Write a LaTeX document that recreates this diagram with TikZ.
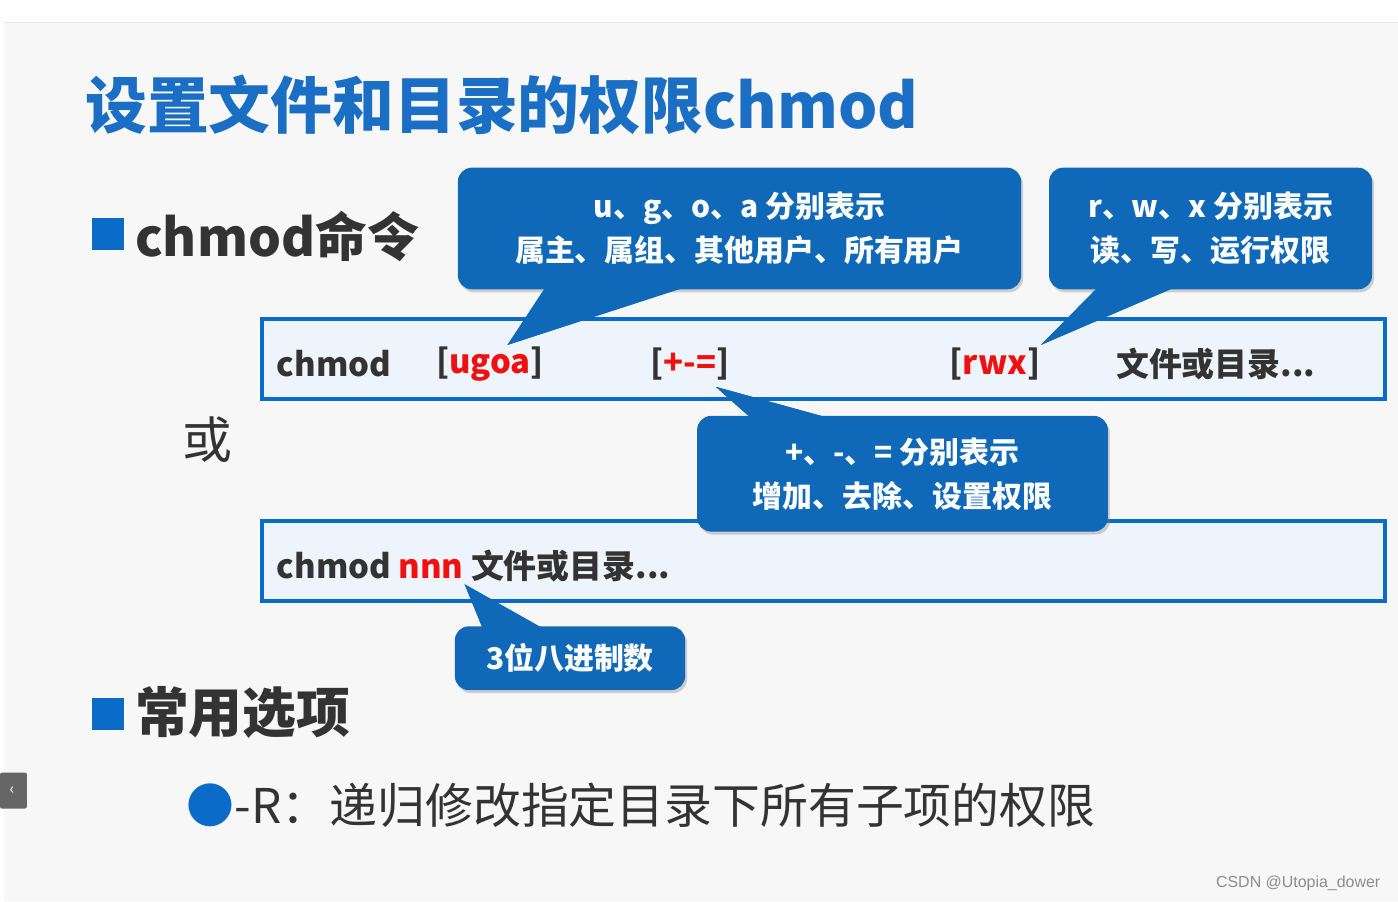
\documentclass[tikz,border=0pt]{standalone}
\usepackage{fontspec}
\setmainfont{Noto Sans CJK SC}
\newfontfamily\latinb{Liberation Sans}
\usetikzlibrary{shadows}
\definecolor{tblue}{HTML}{1A6FC4}
\definecolor{cblue}{HTML}{0F68B8}
\definecolor{bxblue}{HTML}{0A6CC8}
\definecolor{bxfill}{HTML}{EEF4FC}
\definecolor{dgray}{HTML}{333333}
\definecolor{rred}{HTML}{F01010}
\begin{document}
\begin{tikzpicture}[x=1pt,y=-1pt,
  callout/.style={fill=cblue,rounded corners=14pt,draw=none,drop shadow={shadow xshift=2pt,shadow yshift=-3pt,opacity=0.35}},
  ctext/.style={text=white,font=\bfseries\fontsize{30}{44}\selectfont,align=center},
  cmdbox/.style={draw=bxblue,line width=4pt,fill=bxfill},
  cmd/.style={anchor=west,font=\bfseries\fontsize{33}{36}\selectfont,text=dgray},
  bsq/.style={fill=bxblue}]
\fill[white] (0,0) rectangle (1398,904);
\fill[black!3] (0,22) rectangle (1398,904);
\draw[black!10] (0,22) -- (1398,22);
% title
\node[anchor=west,text=tblue,font=\bfseries\fontsize{62}{66}\selectfont] (title) at (78,105) {设置文件和目录的权限chmod};
% bullet 1
\fill[bsq] (88,219) rectangle (120,251);
\node[anchor=west,text=dgray,font=\bfseries\fontsize{52}{56}\selectfont] (h1) at (128,237) {chmod命令};
% boxes
\node[cmdbox,minimum width=1126pt,minimum height=80pt,anchor=north west] (box1) at (257,318) {};
\node[cmdbox,minimum width=1126pt,minimum height=80pt,anchor=north west] (box2) at (257,521) {};
% pointers
\coordinate (p1) at (505,346); \coordinate (p2) at (1040,346);
\coordinate (p3) at (714,388); \coordinate (p4) at (462,586);
\fill[cblue] (p1) -- (545,285) -- (690,285) -- cycle;
\fill[cblue] (p2) -- (1100,285) -- (1180,285) -- cycle;
% callouts 1,2
\node[callout,minimum width=565pt,minimum height=122pt,anchor=north west] (c1) at (455,168) {};
\node[ctext] at (c1) {u、g、o、a 分别表示\\属主、属组、其他用户、所有用户};
\node[callout,minimum width=324pt,minimum height=122pt,anchor=north west] (c2) at (1048,168) {};
\node[ctext] at (c2) {r、w、x 分别表示\\读、写、运行权限};
\fill[cblue] (p1) -- (545,286) -- (690,286) -- cycle;
\fill[cblue] (p2) -- (1100,286) -- (1180,286) -- cycle;
% command 1 texts
\node[cmd] (t1) at (270,365) {chmod};
\node[cmd] (t2) at (430,365) {[\textcolor{rred}{ugoa}]};
\node[cmd] (t3) at (645,365) {[\textcolor{rred}{+-=}]};
\node[cmd] (t4) at (945,365) {[\textcolor{rred}{rwx}]};
\node[cmd] (t5) at (1112,365) {文件或目录...};
% 或
\node[anchor=west,text=dgray,font=\fontsize{50}{54}\selectfont] (or) at (176,441) {或};
% callout 3
\fill[cblue] (p3) -- (750,420) -- (830,420) -- cycle;
\node[callout,minimum width=412pt,minimum height=116pt,anchor=north west] (c3) at (695,417) {};
\node[ctext] at (c3) {+、-、= 分别表示\\增加、去除、设置权限};
\fill[cblue] (p3) -- (750,420) -- (830,420) -- cycle;
% command 2
\node[cmd] (u1) at (270,568) {chmod \textcolor{rred}{nnn} 文件或目录...};
% callout 4
\fill[cblue] (p4) -- (480,630) -- (540,630) -- cycle;
\node[callout,minimum width=231pt,minimum height=64pt,anchor=north west] (c4) at (452,628) {};
\node[ctext] at (c4) {3位八进制数};
\fill[cblue] (p4) -- (480,630) -- (540,630) -- cycle;
% bullet 2
\fill[bsq] (88,700) rectangle (120,732);
\node[anchor=west,text=dgray,font=\bfseries\fontsize{54}{58}\selectfont] (h2) at (128,715) {常用选项};
\node[anchor=west,text=dgray,font=\fontsize{48}{52}\selectfont] (opt) at (180,808) {\textcolor{bxblue}{●}-R：递归修改指定目录下所有子项的权限};
% side tab
\fill[black!60,rounded corners=2pt] (-4,775) rectangle (23,811);
\node[text=white,font=\fontsize{16}{18}\selectfont] (tab) at (8,793) {‹};
\node[anchor=east,text=black!45,font=\latinb\fontsize{16}{18}\selectfont] (wm) at (1384,886) {CSDN @Utopia\_dower};
\end{tikzpicture}
\end{document}
